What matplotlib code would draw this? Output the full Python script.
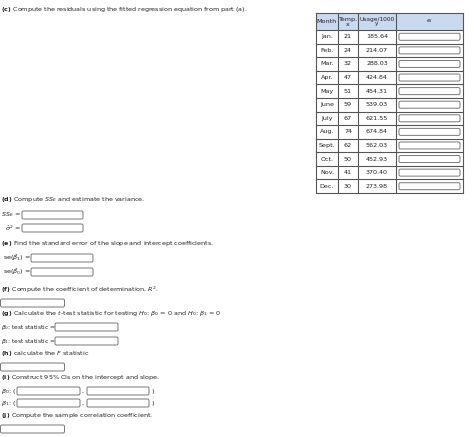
import matplotlib.pyplot as plt
from matplotlib.patches import Rectangle, FancyBboxPatch

months = ['Jan.', 'Feb.', 'Mar.', 'Apr.', 'May', 'June', 'July', 'Aug.', 'Sept.', 'Oct.', 'Nov.', 'Dec.']
temps = [21, 24, 32, 47, 51, 59, 67, 74, 62, 50, 41, 30]
usage = ['185.64', '214.07', '288.03', '424.84', '454.31', '539.03',
         '621.55', '674.84', '562.03', '452.93', '370.40', '273.98']
headers = ['Month', 'Temp.\nx', 'Usage/1000\ny', '$e_i$']

fig = plt.figure(figsize=(4.74, 4.37), dpi=100)
ax = fig.add_axes([0, 0, 1, 1])
ax.set_xlim(0, 474)
ax.set_ylim(437, 0)
ax.axis('off')

FS = 4.6
TC = '#222222'

def box(x0, y, w, h=8):
    #input box centred at y
    ax.add_patch(FancyBboxPatch((x0, y - h / 2), w, h, boxstyle='round,pad=0,rounding_size=1.5',
                                fc='white', ec='#777777', lw=0.7))

def txt(x, y, s, fs=FS, **kw):
    ax.text(x, y, s, fontsize=fs, color=TC, va='center', ha='left', **kw)

#table
cols = [316, 338, 358, 396, 463]
top, hb, bottom = 13, 30, 193
rh = (bottom - hb) / len(months)
ax.add_patch(Rectangle((cols[0], top), cols[-1] - cols[0], hb - top, fc='#c9daf0', ec='none'))
for i, h in enumerate(headers):
    ax.text((cols[i] + cols[i + 1]) / 2, (top + hb) / 2, h, fontsize=FS - 0.4 if i == 2 else FS,
            ha='center', va='center', color=TC, linespacing=1.0)
for r in range(len(months)):
    yc = hb + rh * (r + 0.5)
    vals = [months[r], str(temps[r]), usage[r]]
    for i, v in enumerate(vals):
        ax.text((cols[i] + cols[i + 1]) / 2, yc, v, fontsize=FS, ha='center', va='center', color=TC)
    box(cols[3] + 3, yc, cols[4] - cols[3] - 6, 7)
for x in cols:
    ax.plot([x, x], [top, bottom], color='#555555', lw=0.8)
for k in range(len(months) + 1):
    y = hb + rh * k
    ax.plot([cols[0], cols[-1]], [y, y], color='#555555', lw=0.8)
ax.plot([cols[0], cols[-1]], [top, top], color='#555555', lw=0.8)

#questions
txt(1, 9, r'$\bf{(c)}$ Compute the residuals using the fitted regression equation from part (a).')
txt(1, 200, r'$\bf{(d)}$ Compute $SS_E$ and estimate the variance.')
txt(1, 215, r'$SS_E$ ='); box(22, 215, 61)
txt(5, 228, r'$\hat{\sigma}^2$ ='); box(22, 228, 61)
txt(1, 243, r'$\bf{(e)}$ Find the standard error of the slope and intercept coefficients.')
txt(3, 258, r'se$(\hat{\beta}_1)$ ='); box(31, 258, 62)
txt(3, 272, r'se$(\hat{\beta}_0)$ ='); box(31, 272, 62)
txt(1, 290, r'$\bf{(f)}$ Compute the coefficient of determination, $R^2$.')
box(0.5, 303, 64)
txt(1, 313, r'$\bf{(g)}$ Calculate the $t$-test statistic for testing $H_0$: $\beta_0$ = 0 and $H_0$: $\beta_1$ = 0')
txt(1, 327, r'$\beta_0$: test statistic =', fs=4.2); box(55, 327, 63)
txt(1, 341, r'$\beta_1$: test statistic =', fs=4.2); box(55, 341, 63)
txt(1, 354, r'$\bf{(h)}$ calculate the $F$ statistic')
box(0.5, 367, 64)
txt(1, 377, r'$\bf{(i)}$ Construct 95% CIs on the intercept and slope.')
for y, lab in [(391, r'$\beta_0$: ('), (403, r'$\beta_1$: (')]:
    txt(1, y, lab)
    box(17, y, 63)
    txt(82, y, ',')
    box(87, y, 62)
    txt(151, y, ')')
txt(1, 416, r'$\bf{(j)}$ Compute the sample correlation coefficient.')
box(0.5, 429, 64)

fig.savefig('out.png', dpi=100)
